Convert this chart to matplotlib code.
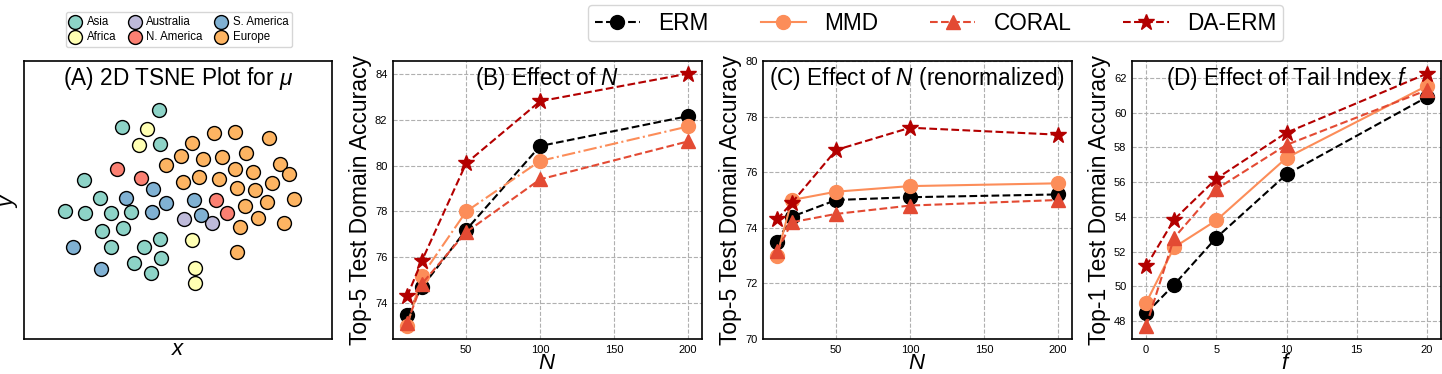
import matplotlib
matplotlib.use("Agg")
import matplotlib.pyplot as plt
from matplotlib.ticker import MultipleLocator

plt.rcParams['font.family'] = ['Liberation Sans', 'DejaVu Sans']
plt.rcParams['mathtext.fontset'] = 'custom'
plt.rcParams['mathtext.it'] = 'Liberation Sans:italic'
plt.rcParams['mathtext.rm'] = 'Liberation Sans'

# ---- panel A: 2D TSNE embedding of domains ----
regions = ['Asia', 'Africa', 'Australia', 'N. America', 'S. America', 'Europe']
region_colors = ['#8dd3c7', '#ffffb3', '#bebada', '#fb8072', '#80b1d3', '#fdb462']
tsne_x = {
    'Asia': [-1.56, -4.64, -1.5, -7.81, -6.5, -9.39, -7.69, -5.56, -3.89, -6.31,
             -4.61, -1.5, -5.53, -2.83, -1.44, -3.64, -2.25],
    'Africa': [-2.58, -3.22, 1.19, 1.39, 1.42],
    'Australia': [0.53, 2.83],
    'N. America': [-5.06, -3.08, 3.19, 4.08],
    'S. America': [-2.11, -4.31, -0.97, -2.19, 1.33, 1.94, -8.75, -6.36],
    'Europe': [3.03, 4.75, 7.58, 1.14, 0.25, 2.06, 3.64, 5.64, -1.03, 4.75, 6.22,
               8.5, 9.25, 0.42, 1.75, 3.44, 4.94, 6.36, 7.81, 9.61, 5.53, 7.39,
               6.69, 5.17, 8.83, 4.94],
}
tsne_y = {
    'Asia': [7.5, 6.11, 4.67, 1.67, 0.19, -0.89, -1.06, -1.06, -0.97, -2.58,
             -2.36, -3.28, -3.89, -3.89, -4.86, -5.28, -6.06],
    'Africa': [5.89, 4.61, -3.33, -5.69, -6.94],
    'Australia': [-1.58, -1.89],
    'N. America': [2.56, 1.81, 0.0, -1.11],
    'S. America': [0.89, 0.19, -0.28, -1.03, 0.0, -1.25, -3.89, -5.78],
    'Europe': [5.56, 5.69, 5.19, 4.78, 3.69, 3.39, 3.56, 3.89, 2.92, 2.58, 2.31,
               3.0, 2.17, 1.53, 1.94, 1.75, 0.97, 0.83, 1.42, 0.08, -0.5, -0.14,
               -1.53, -2.22, -1.89, -4.36],
}

# ---- panels B-D ----
methods = ['ERM', 'MMD', 'CORAL', 'DA-ERM']
colors = ['black', '#fc8d59', '#e34a33', '#b30000']
markers = ['o', 'o', '^', '*']
msizes = [10, 10, 10, 12]

N_vals = [10, 20, 50, 100, 200]
acc_N = {
    'ERM': [73.5, 74.7, 77.2, 80.85, 82.15],
    'MMD': [73.0, 75.2, 78.0, 80.2, 81.7],
    'CORAL': [73.15, 74.85, 77.1, 79.4, 81.05],
    'DA-ERM': [74.3, 75.85, 80.1, 82.8, 84.0],
}
acc_N_renorm = {
    'ERM': [73.5, 74.4, 75.0, 75.1, 75.2],
    'MMD': [73.0, 75.0, 75.3, 75.5, 75.6],
    'CORAL': [73.15, 74.2, 74.5, 74.8, 75.0],
    'DA-ERM': [74.3, 74.9, 76.8, 77.6, 77.35],
}
f_vals = [0, 2, 5, 10, 20]
acc_f = {
    'ERM': [48.45, 50.1, 52.8, 56.45, 60.9],
    'MMD': [49.05, 52.25, 53.8, 57.4, 61.55],
    'CORAL': [47.7, 52.8, 55.6, 58.15, 61.3],
    'DA-ERM': [51.15, 53.85, 56.2, 58.85, 62.25],
}

fig = plt.figure(figsize=(14.42, 3.74), dpi=100)
W, H = 1442.0, 374.0

def box(left, width):
    return [left / W, (H - 339) / H, width / W, 278 / H]

axA = fig.add_axes(box(24, 308))
for r, c in zip(regions, region_colors):
    axA.scatter(tsne_x[r], tsne_y[r], s=100, c=c, edgecolors='black',
                linewidths=1.0, label=r, zorder=3)
axA.set_xlim(-12.8, 12.8)
axA.set_ylim(-11.6, 11.6)
axA.set_xticks([])
axA.set_yticks([])
axA.set_xlabel('$x$', fontsize=16, labelpad=0)
axA.set_ylabel('$y$', fontsize=16, labelpad=3)
axA.text(0.5, 0.985, r'(A) 2D TSNE Plot for $\mu$', transform=axA.transAxes,
         ha='center', va='top', fontsize=16.3)
for s in axA.spines.values():
    s.set_linewidth(1.2)
handlesA, labelsA = axA.get_legend_handles_labels()
fig.legend(handlesA, labelsA, loc='center', ncol=3,
           bbox_to_anchor=(179 / W, 1 - 29.5 / H), fontsize=8.3,
           handlelength=1.0, handletextpad=0.5, columnspacing=1.1,
           borderpad=0.35, labelspacing=0.25, frameon=True)

panels = [
    (393, N_vals, acc_N, '(B) Effect of $N$', '$N$',
     'Top-5 Test Domain Accuracy', None, 50),
    (763, N_vals, acc_N_renorm, '(C) Effect of $N$ (renormalized)', '$N$',
     'Top-5 Test Domain Accuracy', (70, 80), 50),
    (1132, f_vals, acc_f, '(D) Effect of Tail Index $f$', '$f$',
     'Top-1 Test Domain Accuracy', None, 5),
]

line_handles = None
for i, (left, xs, data, title, xl, yl, ylim, xstep) in enumerate(panels):
    ax = fig.add_axes(box(left, 309))
    hs = []
    for m, c, mk, ms in zip(methods, colors, markers, msizes):
        ls = '--'
        if m == 'MMD':
            ls = '-.' if i == 0 else '-'
        h, = ax.plot(xs, data[m], ls=ls, color=c, marker=mk, markersize=ms,
                     lw=1.5, label=m)
        hs.append(h)
    if i == 1:
        line_handles = hs
    if ylim:
        ax.set_ylim(*ylim)
    ax.xaxis.set_major_locator(MultipleLocator(xstep))
    ax.yaxis.set_major_locator(MultipleLocator(2))
    ax.grid(True, ls='--', color='#b0b0b0', lw=0.8)
    ax.set_axisbelow(True)
    ax.tick_params(length=0, labelsize=8, pad=4)
    ax.set_xlabel(xl, fontsize=16, labelpad=-1)
    ax.set_ylabel(yl, fontsize=16.5, labelpad=2)
    ax.text(0.5, 0.985, title, transform=ax.transAxes, ha='center', va='top',
            fontsize=16.3)
    for s in ax.spines.values():
        s.set_linewidth(1.2)

# legend with MMD shown as solid line
fig.legend(line_handles, methods, loc='center', ncol=4,
           bbox_to_anchor=(935.5 / W, 1 - 23 / H), fontsize=16.3,
           handlelength=2.0, columnspacing=2.3, borderpad=0.3, frameon=True)

fig.savefig('out.png', dpi=100)
